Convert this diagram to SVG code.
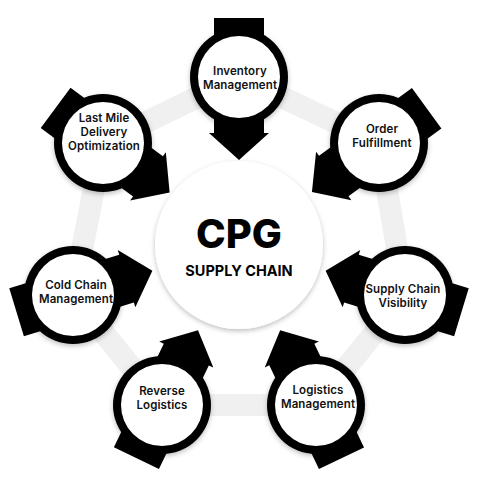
<svg xmlns="http://www.w3.org/2000/svg" width="480" height="479" viewBox="0 0 480 479">
<defs>
<style>
.lbl{font-family:Inter,"Open Sans","Liberation Sans",sans-serif;font-weight:600;font-size:11.5px;letter-spacing:0.1px;fill:#111;text-anchor:middle}
.ring{fill:#000}
.inner{fill:#fff}
.arrow{fill:#000}
</style>
<filter id="sh" x="-30%" y="-30%" width="160%" height="160%">
<feDropShadow dx="0" dy="2" stdDeviation="2.5" flood-color="#000" flood-opacity="0.25"/>
</filter>
<path id="arw" d="M -59,-25 L 56,-25 L 56,-30 L 83,0 L 56,30 L 56,25 L -59,25 Z"/>
</defs>
<rect width="480" height="479" fill="#fff"/>
<g id="connectors">
<polygon points="239,77 379,143 405,295 316,405 162,405 73,295 103,143" fill="none" stroke="#f0f0f0" stroke-width="22" stroke-linejoin="round"/>
</g>
<g id="center">
<circle cx="239" cy="245" r="84" fill="#fff" filter="url(#sh)"/>
<text x="239" y="248" font-family="Inter,'Liberation Sans',sans-serif" font-weight="800" font-size="40" text-anchor="middle" fill="#000">CPG</text>
<text x="239" y="276" font-family="Inter,'Liberation Sans',sans-serif" font-weight="700" font-size="14.5" text-anchor="middle" fill="#000">SUPPLY CHAIN</text>
</g>
<g id="node-inventory">
<use href="#arw" class="arrow" transform="translate(239,77) rotate(90)"/>
<circle cx="239" cy="77" r="49" class="ring" filter="url(#sh)"/>
<circle cx="239" cy="77" r="41" class="inner"/>
<text class="lbl" x="240" y="75">Inventory</text>
<text class="lbl" x="240" y="89">Management</text>
</g>
<g id="node-order">
<use href="#arw" class="arrow" transform="translate(379,143) rotate(143.9)"/>
<circle cx="379" cy="143" r="49" class="ring" filter="url(#sh)"/>
<circle cx="379" cy="143" r="41" class="inner"/>
<text class="lbl" x="382" y="133">Order</text>
<text class="lbl" x="382" y="147">Fulfillment</text>
</g>
<g id="node-visibility">
<use href="#arw" class="arrow" transform="translate(405,295) rotate(197)"/>
<circle cx="405" cy="295" r="49" class="ring" filter="url(#sh)"/>
<circle cx="405" cy="295" r="41" class="inner"/>
<text class="lbl" x="403" y="293">Supply Chain</text>
<text class="lbl" x="403" y="307">Visibility</text>
</g>
<g id="node-logistics">
<use href="#arw" class="arrow" transform="translate(316,405) rotate(-115.6)"/>
<circle cx="316" cy="405" r="49" class="ring" filter="url(#sh)"/>
<circle cx="316" cy="405" r="41" class="inner"/>
<text class="lbl" x="318" y="394">Logistics</text>
<text class="lbl" x="318" y="408">Management</text>
</g>
<g id="node-reverse">
<use href="#arw" class="arrow" transform="translate(162,405) rotate(-64.3)"/>
<circle cx="162" cy="405" r="49" class="ring" filter="url(#sh)"/>
<circle cx="162" cy="405" r="41" class="inner"/>
<text class="lbl" x="162" y="395">Reverse</text>
<text class="lbl" x="162" y="409">Logistics</text>
</g>
<g id="node-cold">
<use href="#arw" class="arrow" transform="translate(73,295) rotate(-17)"/>
<circle cx="73" cy="295" r="49" class="ring" filter="url(#sh)"/>
<circle cx="73" cy="295" r="41" class="inner"/>
<text class="lbl" x="76" y="289">Cold Chain</text>
<text class="lbl" x="76" y="303">Management</text>
</g>
<g id="node-lastmile">
<use href="#arw" class="arrow" transform="translate(103,143) rotate(36.6)"/>
<circle cx="103" cy="143" r="49" class="ring" filter="url(#sh)"/>
<circle cx="103" cy="143" r="41" class="inner"/>
<text class="lbl" x="104" y="122">Last Mile</text>
<text class="lbl" x="104" y="136">Delivery</text>
<text class="lbl" x="104" y="150">Optimization</text>
</g>
</svg>
